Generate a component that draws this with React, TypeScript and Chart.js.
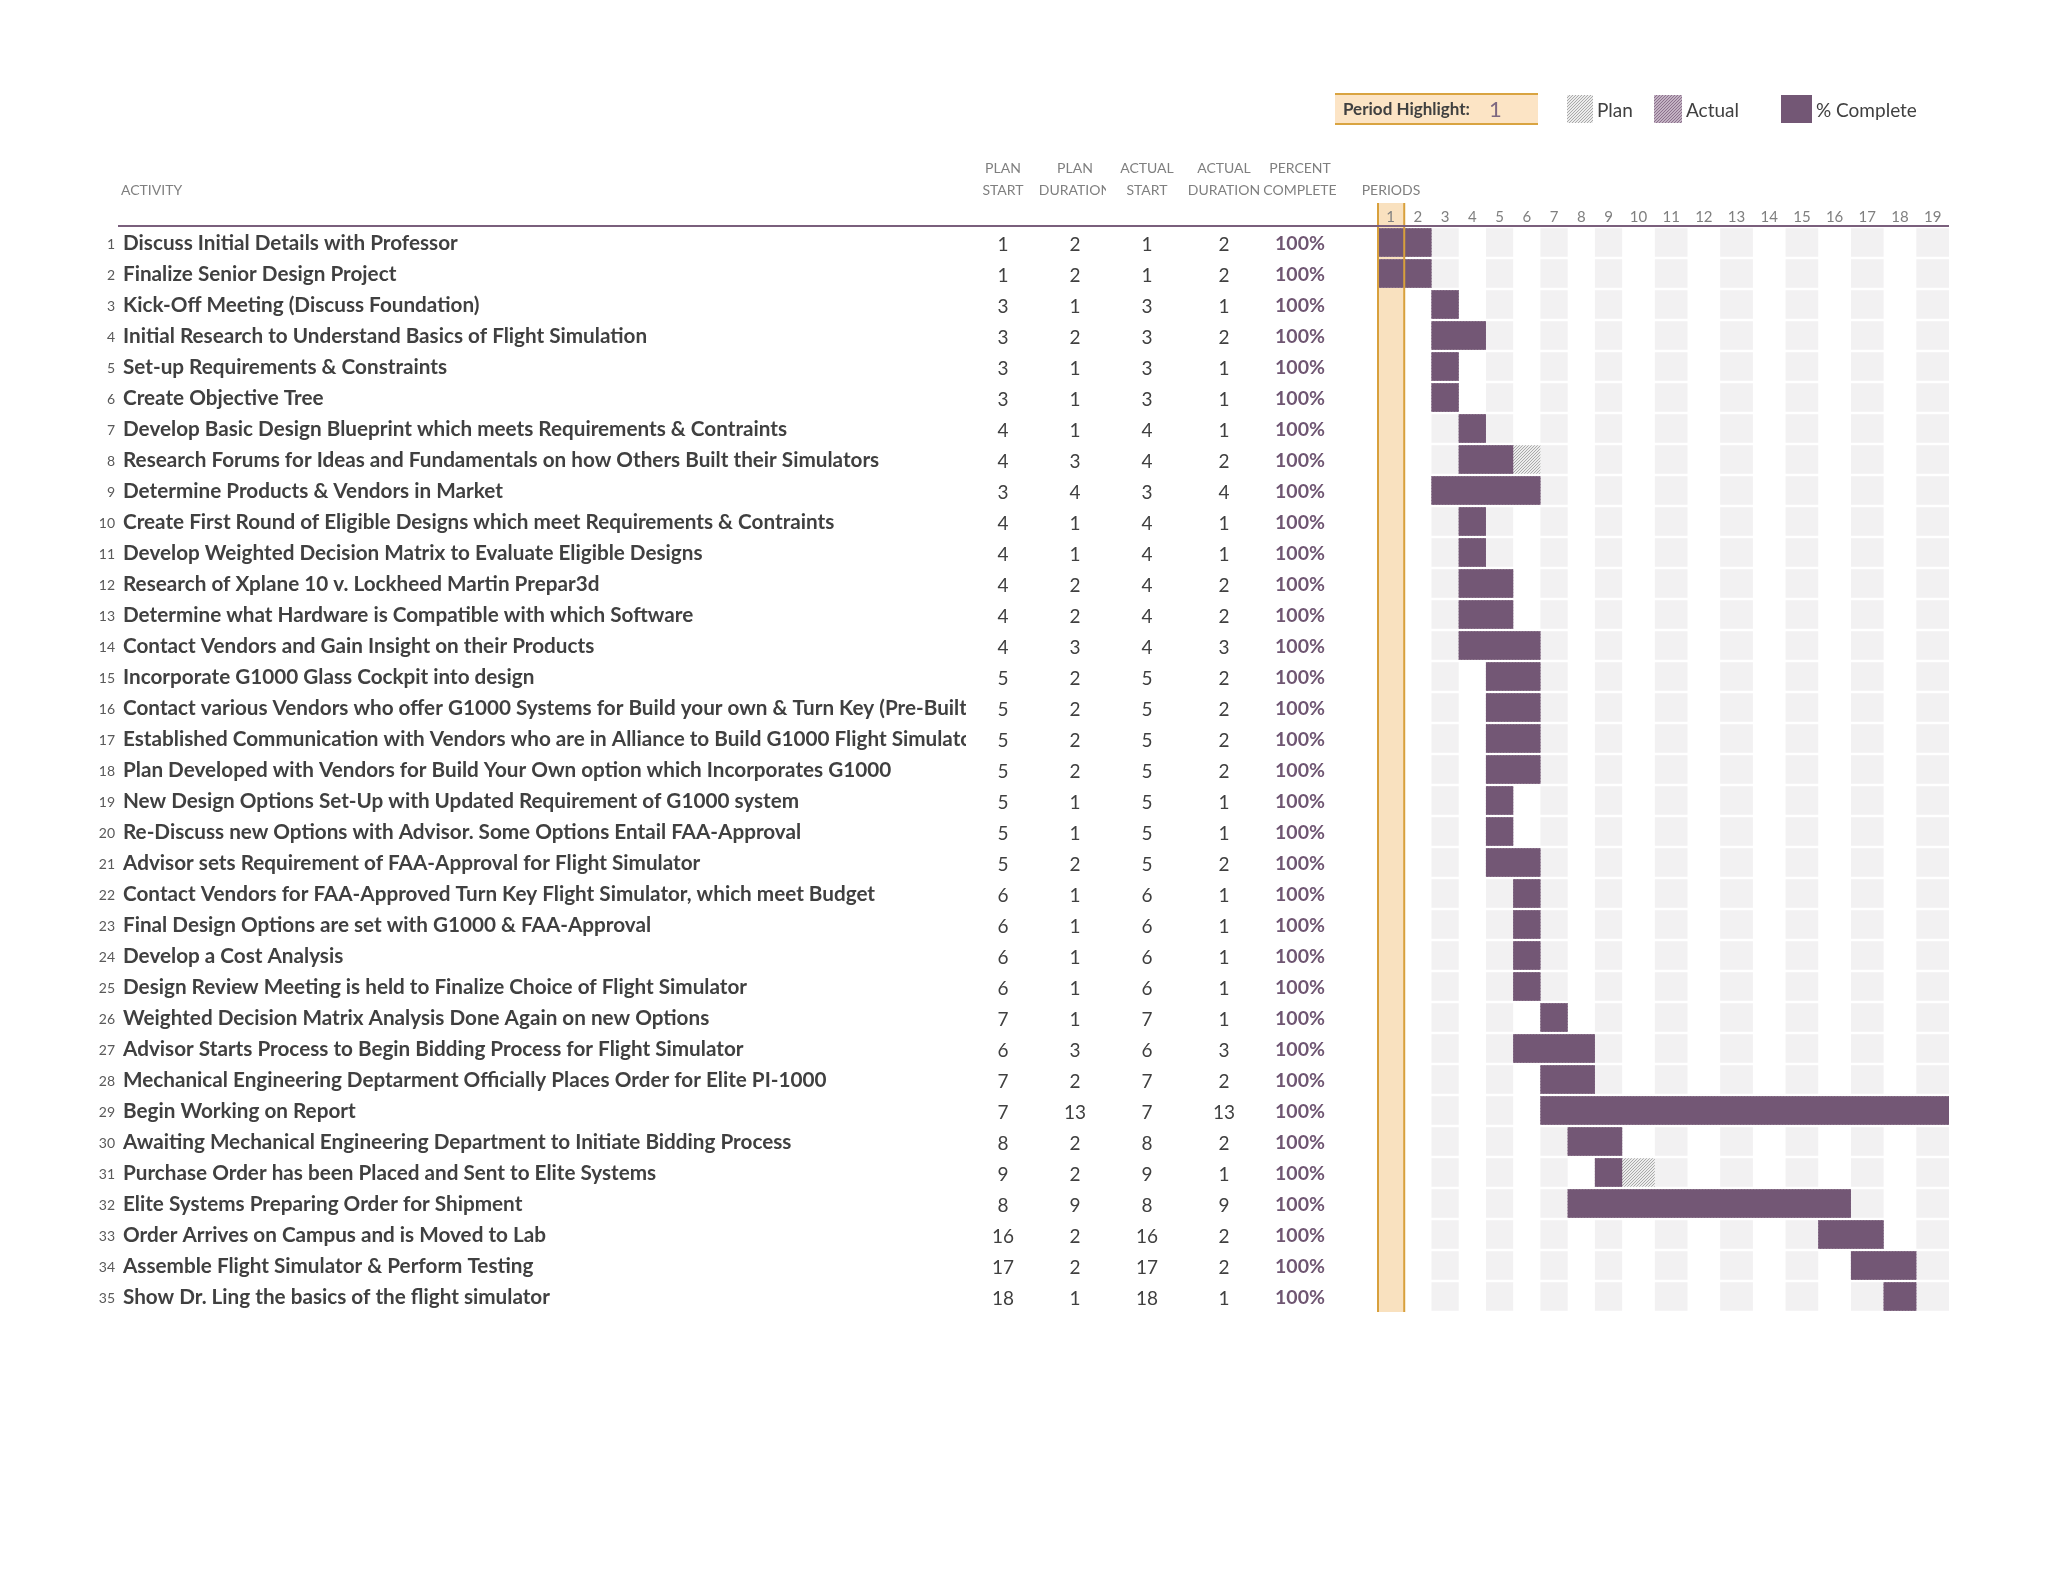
import React, { useEffect, useRef } from 'react';
import { Chart, registerables, LinearScale } from 'chart.js';

// ---------- data ----------
const activities = [
  'Discuss Initial Details with Professor',
  'Finalize Senior Design Project',
  'Kick-Off Meeting (Discuss Foundation)',
  'Initial Research to Understand Basics of Flight Simulation',
  'Set-up Requirements & Constraints',
  'Create Objective Tree',
  'Develop Basic Design Blueprint which meets Requirements & Contraints',
  'Research Forums for Ideas and Fundamentals on how Others Built their Simulators',
  'Determine Products & Vendors in Market',
  'Create First Round of Eligible Designs which meet Requirements & Contraints',
  'Develop Weighted Decision Matrix to Evaluate Eligible Designs',
  'Research of Xplane 10 v. Lockheed Martin Prepar3d',
  'Determine what Hardware is Compatible with which Software',
  'Contact Vendors and Gain Insight on their Products',
  'Incorporate G1000 Glass Cockpit into design',
  'Contact various Vendors who offer G1000 Systems for Build your own & Turn Key (Pre-Built)',
  'Established Communication with Vendors who are in Alliance to Build G1000 Flight Simulators',
  'Plan Developed with Vendors for Build Your Own option which Incorporates G1000',
  'New Design Options Set-Up with Updated Requirement of G1000 system',
  'Re-Discuss new Options with Advisor. Some Options Entail FAA-Approval',
  'Advisor sets Requirement of FAA-Approval for Flight Simulator',
  'Contact Vendors for FAA-Approved Turn Key Flight Simulator, which meet Budget',
  'Final Design Options are set with G1000 & FAA-Approval',
  'Develop a Cost Analysis',
  'Design Review Meeting is held to Finalize Choice of Flight Simulator',
  'Weighted Decision Matrix Analysis Done Again on new Options',
  'Advisor Starts Process to Begin Bidding Process for Flight Simulator',
  'Mechanical Engineering Deptarment Officially Places Order for Elite PI-1000',
  'Begin Working on Report',
  'Awaiting Mechanical Engineering Department to Initiate Bidding Process',
  'Purchase Order has been Placed and Sent to Elite Systems',
  'Elite Systems Preparing Order for Shipment',
  'Order Arrives on Campus and is Moved to Lab',
  'Assemble Flight Simulator & Perform Testing',
  'Show Dr. Ling the basics of the flight simulator',
];
const planStart = [1, 1, 3, 3, 3, 3, 4, 4, 3, 4, 4, 4, 4, 4, 5, 5, 5, 5, 5, 5, 5, 6, 6, 6, 6, 7, 6, 7, 7, 8, 9, 8, 16, 17, 18];
const planDuration = [2, 2, 1, 2, 1, 1, 1, 3, 4, 1, 1, 2, 2, 3, 2, 2, 2, 2, 1, 1, 2, 1, 1, 1, 1, 1, 3, 2, 13, 2, 2, 9, 2, 2, 1];
const actualStart = [1, 1, 3, 3, 3, 3, 4, 4, 3, 4, 4, 4, 4, 4, 5, 5, 5, 5, 5, 5, 5, 6, 6, 6, 6, 7, 6, 7, 7, 8, 9, 8, 16, 17, 18];
const actualDuration = [2, 2, 1, 2, 1, 1, 1, 2, 4, 1, 1, 2, 2, 3, 2, 2, 2, 2, 1, 1, 2, 1, 1, 1, 1, 1, 3, 2, 13, 2, 1, 9, 2, 2, 1];
const percentComplete = [100, 100, 100, 100, 100, 100, 100, 100, 100, 100, 100, 100, 100, 100, 100, 100, 100, 100, 100, 100, 100, 100, 100, 100, 100, 100, 100, 100, 100, 100, 100, 100, 100, 100, 100];
const periods = [1, 2, 3, 4, 5, 6, 7, 8, 9, 10, 11, 12, 13, 14, 15, 16, 17, 18, 19];
const periodHighlight = 1;
const columnHeaders = [
  ['PLAN', 'START'],
  ['PLAN', 'DURATION'],
  ['ACTUAL', 'START'],
  ['ACTUAL', 'DURATION'],
  ['PERCENT', 'COMPLETE'],
];

// ---------- styling ----------
const FONT = 'Lato, "Open Sans", "DejaVu Sans", sans-serif';
const PURPLE = '#735775';
const HEADER_GREY = '#7F7F7F';
const TEXT = '#404040';

// Period scale: each period column is as wide as Excel auto-fit would make it (two-digit periods wider)
class PeriodScale extends LinearScale {
  static id = 'period';
  static defaults = { ...(LinearScale as any).defaults };
  _weights(): number[] {
    const out: number[] = [];
    const first = Math.round((this as any).min + 0.5);
    const last = Math.round((this as any).max - 0.5);
    for (let v = first; v <= last; v++) out.push(0.8 + 0.2 * String(v).length);
    return out;
  }
  getPixelForValue(value: number) {
    if (value === null || value === undefined || isNaN(value)) return NaN;
    const w = this._weights();
    const total = w.reduce((a, b) => a + b, 0);
    let e = value - (this as any).min;
    let cum = 0;
    if (e <= 0) cum = e * w[0];
    else {
      let i = 0;
      while (i < w.length && e >= 1) {
        cum += w[i];
        e -= 1;
        i++;
      }
      cum += e * w[Math.min(i, w.length - 1)];
    }
    return (this as any).left + (cum / total) * (this as any).width;
  }
  getValueForPixel(pixel: number) {
    const w = this._weights();
    const total = w.reduce((a, b) => a + b, 0);
    let cum = ((pixel - (this as any).left) / (this as any).width) * total;
    let v = (this as any).min;
    let i = 0;
    while (i < w.length && cum >= w[i]) {
      cum -= w[i];
      v += 1;
      i++;
    }
    return v + cum / w[Math.min(i, w.length - 1)];
  }
}

Chart.register(...registerables, PeriodScale as any);

function hatch(bg: string, fg: string, size: number) {
  const c = document.createElement('canvas');
  c.width = size;
  c.height = size;
  const g = c.getContext('2d')!;
  g.fillStyle = bg;
  g.fillRect(0, 0, size, size);
  g.fillStyle = fg;
  for (let i = 0; i < size; i++) g.fillRect(i, size - 1 - i, 1, 1);
  return g.createPattern(c, 'repeat')!;
}

const ganttPlugin = {
  id: 'ganttTable',
  beforeDraw(chart: any) {
    const { ctx, chartArea: a, scales } = chart;
    const x = scales.x;
    const y = scales.y;
    ctx.save();
    ctx.fillStyle = '#ffffff';
    ctx.fillRect(0, 0, chart.width, chart.height);
    const pitch = (a.bottom - a.top) / activities.length;
    const h = pitch * 0.92;
    ctx.fillStyle = '#F2F1F2';
    activities.forEach((_, i) => {
      const yc = y.getPixelForValue(i);
      periods.forEach((p) => {
        if (p % 2 === 1 && p !== periodHighlight) {
          const x0 = x.getPixelForValue(p - 0.5);
          const x1 = x.getPixelForValue(p + 0.5);
          ctx.fillRect(x0, yc - h / 2, x1 - x0, h);
        }
      });
    });
    const hx0 = x.getPixelForValue(periodHighlight - 0.5);
    const hx1 = x.getPixelForValue(periodHighlight + 0.5);
    ctx.fillStyle = '#F9E1BF';
    ctx.fillRect(hx0, a.top - 24, hx1 - hx0, a.bottom - a.top + 24);
    ctx.restore();
  },
  afterDatasetsDraw(chart: any) {
    const { ctx, chartArea: a, scales } = chart;
    const x = scales.x;
    ctx.save();
    const hx0 = x.getPixelForValue(periodHighlight - 0.5);
    const hx1 = x.getPixelForValue(periodHighlight + 0.5);
    ctx.strokeStyle = '#D8A03C';
    ctx.lineWidth = 2;
    ctx.beginPath();
    ctx.moveTo(hx0 + 1, a.top - 24);
    ctx.lineTo(hx0 + 1, a.bottom);
    ctx.moveTo(hx1, a.top - 24);
    ctx.lineTo(hx1, a.bottom);
    ctx.stroke();
    // header rule
    ctx.strokeStyle = '#7A5F7C';
    ctx.lineWidth = 2;
    ctx.beginPath();
    ctx.moveTo(118, a.top - 1);
    ctx.lineTo(a.right, a.top - 1);
    ctx.stroke();
    ctx.restore();
  },
  afterDraw(chart: any) {
    const { ctx, scales } = chart;
    const y = scales.y;
    const colX = [1003, 1075, 1147, 1224, 1300];
    ctx.save();
    ctx.textBaseline = 'middle';

    // column headers
    ctx.fillStyle = HEADER_GREY;
    ctx.font = `14px ${FONT}`;
    ctx.textAlign = 'left';
    ctx.fillText('ACTIVITY', 121, 190);
    ctx.textAlign = 'center';
    columnHeaders.forEach((lines, c) => {
      ctx.save();
      if (c === 1) {
        ctx.beginPath();
        ctx.rect(1038, 150, 68, 60);
        ctx.clip();
      }
      ctx.fillText(lines[0], colX[c], 168);
      ctx.fillText(lines[1], colX[c], 190);
      ctx.restore();
    });
    ctx.fillText('PERIODS', 1391, 190);

    // rows
    activities.forEach((name, i) => {
      const yc = y.getPixelForValue(i) + 1;
      ctx.fillStyle = '#595959';
      ctx.font = `14px ${FONT}`;
      ctx.textAlign = 'right';
      ctx.fillText(String(i + 1), 115, yc + 1);
      ctx.save();
      ctx.beginPath();
      ctx.rect(0, yc - 16, 966, 32);
      ctx.clip();
      ctx.fillStyle = TEXT;
      ctx.font = `bold 20.7px ${FONT}`;
      ctx.textAlign = 'left';
      ctx.fillText(name, 123, yc);
      ctx.restore();
      ctx.font = `19px ${FONT}`;
      ctx.textAlign = 'center';
      ctx.fillStyle = TEXT;
      const vals = [planStart[i], planDuration[i], actualStart[i], actualDuration[i]];
      vals.forEach((v, c) => ctx.fillText(String(v), colX[c], yc + 1));
      ctx.fillStyle = '#6F5672';
      ctx.font = `bold 19.5px ${FONT}`;
      ctx.fillText(percentComplete[i] + '%', colX[4], yc);
    });

    // period highlight box
    ctx.fillStyle = '#FCE4C5';
    ctx.fillRect(1335, 94, 203, 31);
    ctx.fillStyle = '#D9A441';
    ctx.fillRect(1335, 93, 203, 2);
    ctx.fillRect(1335, 123, 203, 2);
    ctx.fillStyle = TEXT;
    ctx.font = `bold 17px ${FONT}`;
    ctx.textAlign = 'left';
    ctx.fillText('Period Highlight:', 1343, 110);
    ctx.fillStyle = '#7D6780';
    ctx.font = `22px ${FONT}`;
    ctx.fillText(String(periodHighlight), 1489, 110);

    // legend
    const ds = chart.data.datasets;
    const slots = [
      { d: ds[2], x: 1567, w: 26 },
      { d: ds[1], x: 1654, w: 28 },
      { d: ds[0], x: 1781, w: 31 },
    ];
    ctx.font = `19px ${FONT}`;
    slots.forEach((s) => {
      ctx.fillStyle = s.d.backgroundColor;
      ctx.fillRect(s.x, 95, s.w, 28);
      ctx.fillStyle = TEXT;
      ctx.fillText(s.d.label, s.x + s.w + 4, 111);
    });
    ctx.restore();
  },
};

export default function App() {
  const ref = useRef<HTMLCanvasElement>(null);
  useEffect(() => {
    const planPattern = hatch('#ECECEC', '#A9A9A9', 3);
    const actualPattern = hatch('#C3B2C3', '#8B718C', 3);
    const span = (s: number[], d: number[], f: (i: number) => number = () => 1) =>
      activities.map((_, i) => [s[i] - 0.5, s[i] - 0.5 + d[i] * f(i)]);
    const chart = new Chart(ref.current!, {
      type: 'bar',
      data: {
        labels: activities,
        datasets: [
          {
            label: '% Complete',
            data: span(actualStart, actualDuration, (i) => percentComplete[i] / 100) as any,
            backgroundColor: PURPLE,
            grouped: false,
            barPercentage: 0.92,
            categoryPercentage: 1,
            borderWidth: 0,
          },
          {
            label: 'Actual',
            data: span(actualStart, actualDuration) as any,
            backgroundColor: actualPattern as any,
            grouped: false,
            barPercentage: 0.92,
            categoryPercentage: 1,
            borderWidth: 0,
          },
          {
            label: 'Plan',
            data: span(planStart, planDuration) as any,
            backgroundColor: planPattern as any,
            grouped: false,
            barPercentage: 0.92,
            categoryPercentage: 1,
            borderWidth: 0,
          },
        ],
      },
      options: {
        indexAxis: 'y',
        animation: false,
        responsive: false,
        devicePixelRatio: 1,
        layout: { padding: { left: 1377, right: 99, top: 201, bottom: 270 } },
        plugins: { legend: { display: false }, tooltip: { enabled: false } },
        scales: {
          x: {
            type: 'period' as any,
            position: 'top',
            min: 0.5,
            max: 19.5,
            afterBuildTicks: (s: any) => {
              s.ticks = periods.map((p) => ({ value: p }));
            },
            afterFit: (s: any) => {
              s.height = 26;
            },
            grid: { display: false, drawTicks: false },
            border: { display: false },
            ticks: {
              autoSkip: false,
              maxRotation: 0,
              padding: 1,
              color: HEADER_GREY,
              font: { family: FONT, size: 15 },
              callback: (v: any) => String(v),
            },
          } as any,
          y: {
            type: 'category',
            display: false,
            offset: true,
          },
        },
      },
      plugins: [ganttPlugin],
    });
    return () => chart.destroy();
  }, []);
  return (
    <div style={{ position: 'absolute', left: 0, top: 0, width: 2048, height: 1582, background: '#fff' }}>
      <canvas ref={ref} width={2048} height={1582} style={{ width: 2048, height: 1582, display: 'block' }} />
    </div>
  );
}
